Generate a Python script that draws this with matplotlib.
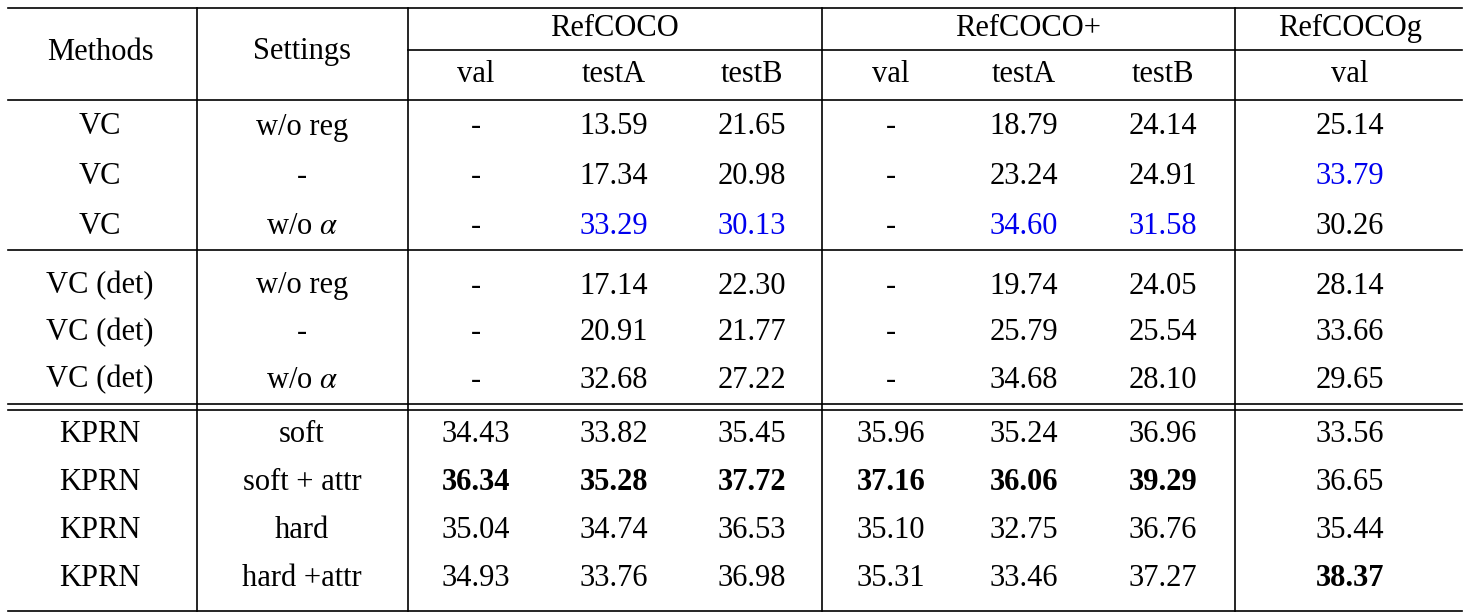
import matplotlib
matplotlib.use("Agg")
import matplotlib.pyplot as plt

groups = ["RefCOCO", "RefCOCO+", "RefCOCOg"]
subcols = ["val", "testA", "testB", "val", "testA", "testB", "val"]
methods = ["VC", "VC", "VC", "VC (det)", "VC (det)", "VC (det)", "KPRN", "KPRN", "KPRN", "KPRN"]
settings = ["w/o reg", "-", "w/o $\\alpha$", "w/o reg", "-", "w/o $\\alpha$", "soft", "soft + attr", "hard", "hard +attr"]
values = [
    ["-", "13.59", "21.65", "-", "18.79", "24.14", "25.14"],
    ["-", "17.34", "20.98", "-", "23.24", "24.91", "33.79"],
    ["-", "33.29", "30.13", "-", "34.60", "31.58", "30.26"],
    ["-", "17.14", "22.30", "-", "19.74", "24.05", "28.14"],
    ["-", "20.91", "21.77", "-", "25.79", "25.54", "33.66"],
    ["-", "32.68", "27.22", "-", "34.68", "28.10", "29.65"],
    ["34.43", "33.82", "35.45", "35.96", "35.24", "36.96", "33.56"],
    ["36.34", "35.28", "37.72", "37.16", "36.06", "39.29", "36.65"],
    ["35.04", "34.74", "36.53", "35.10", "32.75", "36.76", "35.44"],
    ["34.93", "33.76", "36.98", "35.31", "33.46", "37.27", "38.37"],
]
blue = {(1, 6), (2, 1), (2, 2), (2, 4), (2, 5)}
bold = {(7, 0), (7, 1), (7, 2), (7, 3), (7, 4), (7, 5), (9, 6)}

W, H = 1468, 616
fig = plt.figure(figsize=(W / 100, H / 100), dpi=100)
ax = fig.add_axes([0, 0, 1, 1])
ax.set_xlim(0, W); ax.set_ylim(H, 0); ax.axis("off")
plt.rcParams['mathtext.fontset'] = 'stix'
fam = "Liberation Serif"
fs = 22

col_x = [100, 302, 476, 614, 752, 891, 1024, 1163, 1350]
row_y = [127, 177, 227, 286, 333, 380, 435, 483, 530, 578]

def t(x, y, s, **kw):
    ax.text(x, y, s, ha="center", va="center", fontsize=fs, family=fam, **kw)

t(col_x[0], 52, "Methods"); t(col_x[1], 52, "Settings")
t(614, 28, groups[0]); t(1028, 28, groups[1]); t(1350, 28, groups[2])
for j, s in enumerate(subcols):
    t(col_x[j + 2], 75, s)
for i in range(len(methods)):
    y = row_y[i]
    t(col_x[0], y, methods[i]); t(col_x[1], y, settings[i])
    for j, v in enumerate(values[i]):
        t(col_x[j + 2], y, v, color="#0000ee" if (i, j) in blue else "black",
          weight="bold" if (i, j) in bold else "normal")

lw = 1.2
x0, x1 = 8, 1462
for y in [8, 100, 250, 611]:
    ax.plot([x0, x1], [y, y], color="black", lw=lw)
for y in [404, 410]:
    ax.plot([x0, x1], [y, y], color="black", lw=lw)
ax.plot([408, x1], [50, 50], color="black", lw=lw)
for x in [197, 408, 822, 1235]:
    ax.plot([x, x], [8, 611], color="black", lw=lw)

fig.savefig("out.png", dpi=100)
